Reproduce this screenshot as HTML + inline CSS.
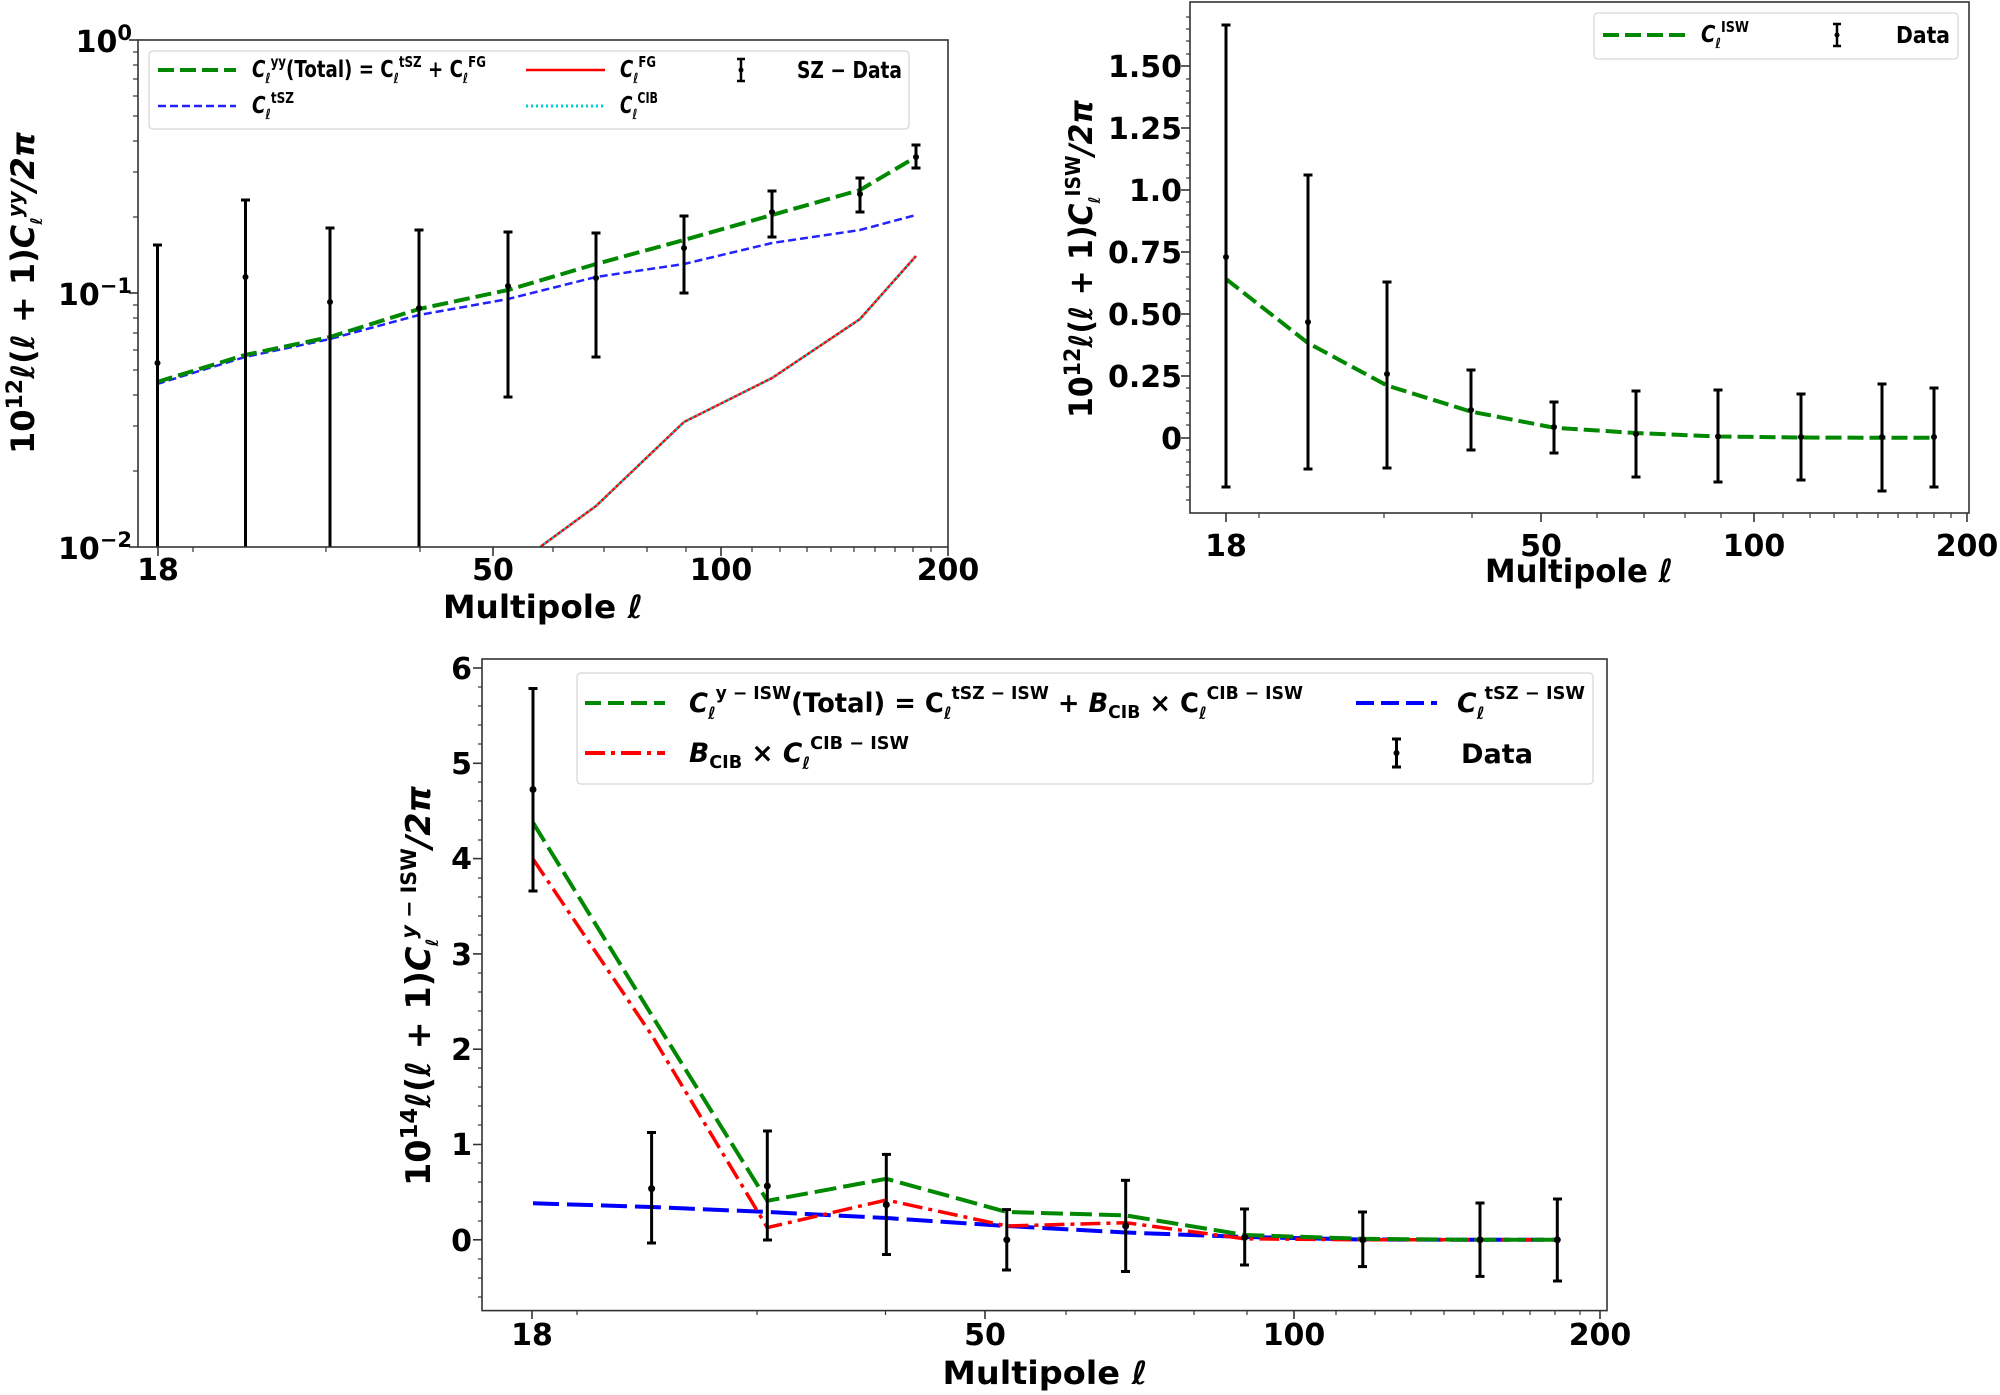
<!DOCTYPE html>
<html><head><meta charset="utf-8"><style>
html,body{margin:0;padding:0;background:#fff}
svg{display:block}
text{font-family:"DejaVu Sans","Liberation Sans",sans-serif;font-weight:bold;fill:#000}
.t{font-size:30px}
.lg{font-size:23px}
.it{font-style:italic}
</style></head><body>
<svg width="2000" height="1395" viewBox="0 0 2000 1395" xmlns="http://www.w3.org/2000/svg">
<rect width="2000" height="1395" fill="#fff"/>

<!-- ================= PANEL 1 ================= -->
<g>
<clipPath id="c1"><rect x="138" y="40" width="810" height="507"/></clipPath>
<g clip-path="url(#c1)" fill="none">
 <!-- red FG -->
 <polyline points="540,547 596,506 684,422 772,378 860,319 916,256" stroke="#f00" stroke-width="2.5"/>
 <polyline points="540,547 596,506 684,422 772,378 860,319 916,256" stroke="#0cc" stroke-width="2" stroke-dasharray="2,3"/>
 <!-- blue tSZ -->
 <polyline points="157,384 245,357 330,339 419,315 508,299 596,277 684,264 772,243 860,230 916,215" stroke="#22f" stroke-width="2.5" stroke-dasharray="8,4"/>
 <!-- green total -->
 <polyline points="157,382 245,355 330,337 419,309 508,290 596,264 684,240 772,215 860,190 916,157" stroke="#080" stroke-width="4" stroke-dasharray="16,6"/>
 <!-- error bars -->
 <g stroke="#000" stroke-width="3">
  <line x1="157.5" y1="245" x2="157.5" y2="560"/><line x1="153" y1="245" x2="162" y2="245"/>
  <line x1="245.5" y1="200" x2="245.5" y2="560"/><line x1="241" y1="200" x2="250" y2="200"/>
  <line x1="330" y1="228" x2="330" y2="560"/><line x1="325.5" y1="228" x2="334.5" y2="228"/>
  <line x1="419" y1="230" x2="419" y2="560"/><line x1="414.5" y1="230" x2="423.5" y2="230"/>
  <line x1="508" y1="232" x2="508" y2="397"/><line x1="503.5" y1="232" x2="512.5" y2="232"/><line x1="503.5" y1="397" x2="512.5" y2="397"/>
  <line x1="596" y1="233" x2="596" y2="357"/><line x1="591.5" y1="233" x2="600.5" y2="233"/><line x1="591.5" y1="357" x2="600.5" y2="357"/>
  <line x1="684" y1="216" x2="684" y2="293"/><line x1="679.5" y1="216" x2="688.5" y2="216"/><line x1="679.5" y1="293" x2="688.5" y2="293"/>
  <line x1="772" y1="191" x2="772" y2="237"/><line x1="767.5" y1="191" x2="776.5" y2="191"/><line x1="767.5" y1="237" x2="776.5" y2="237"/>
  <line x1="860" y1="178" x2="860" y2="212"/><line x1="855.5" y1="178" x2="864.5" y2="178"/><line x1="855.5" y1="212" x2="864.5" y2="212"/>
  <line x1="916" y1="145" x2="916" y2="168"/><line x1="911.5" y1="145" x2="920.5" y2="145"/><line x1="911.5" y1="168" x2="920.5" y2="168"/>
 </g>
 <g fill="#000"><circle cx="157.5" cy="363" r="3"/><circle cx="245.5" cy="277" r="3"/><circle cx="330" cy="302" r="3"/><circle cx="419" cy="308" r="3"/><circle cx="508" cy="286" r="3"/><circle cx="596" cy="278" r="3"/><circle cx="684" cy="248" r="3"/><circle cx="772" cy="212" r="3"/><circle cx="860" cy="194" r="3"/><circle cx="916" cy="157" r="3"/></g>
</g>
<rect x="138" y="40" width="810" height="507" fill="none" stroke="#333" stroke-width="1.6"/>
<!-- x ticks -->
<g stroke="#333" stroke-width="1.6">
 <line x1="158" y1="547" x2="158" y2="556"/><line x1="493" y1="547" x2="493" y2="556"/><line x1="721" y1="547" x2="721" y2="556"/><line x1="948" y1="547" x2="948" y2="556"/>
 <g stroke-width="1.2"><line x1="193" y1="547" x2="193" y2="552"/><line x1="326" y1="547" x2="326" y2="552"/><line x1="420" y1="547" x2="420" y2="552"/><line x1="553" y1="547" x2="553" y2="552"/><line x1="604" y1="547" x2="604" y2="552"/><line x1="647" y1="547" x2="647" y2="552"/><line x1="686" y1="547" x2="686" y2="552"/><line x1="752" y1="547" x2="752" y2="552"/><line x1="780" y1="547" x2="780" y2="552"/><line x1="807" y1="547" x2="807" y2="552"/><line x1="831" y1="547" x2="831" y2="552"/><line x1="854" y1="547" x2="854" y2="552"/><line x1="875" y1="547" x2="875" y2="552"/><line x1="895" y1="547" x2="895" y2="552"/><line x1="913" y1="547" x2="913" y2="552"/><line x1="931" y1="547" x2="931" y2="552"/></g>
 <!-- y ticks -->
 <line x1="129" y1="40" x2="138" y2="40"/><line x1="129" y1="293" x2="138" y2="293"/><line x1="129" y1="547" x2="138" y2="547"/>
 <g stroke-width="1.2">
  <line x1="133" y1="471" x2="138" y2="471"/><line x1="133" y1="426" x2="138" y2="426"/><line x1="133" y1="395" x2="138" y2="395"/><line x1="133" y1="370" x2="138" y2="370"/><line x1="133" y1="350" x2="138" y2="350"/><line x1="133" y1="333" x2="138" y2="333"/><line x1="133" y1="318" x2="138" y2="318"/><line x1="133" y1="305" x2="138" y2="305"/>
  <line x1="133" y1="217" x2="138" y2="217"/><line x1="133" y1="172" x2="138" y2="172"/><line x1="133" y1="141" x2="138" y2="141"/><line x1="133" y1="116" x2="138" y2="116"/><line x1="133" y1="96" x2="138" y2="96"/><line x1="133" y1="79" x2="138" y2="79"/><line x1="133" y1="65" x2="138" y2="65"/><line x1="133" y1="52" x2="138" y2="52"/>
 </g>
</g>
<g class="t" text-anchor="middle">
 <text x="158" y="580">18</text><text x="493" y="580">50</text><text x="721" y="580">100</text><text x="948" y="580">200</text>
</g>
<g class="t" text-anchor="end">
 <text x="132" y="52">10<tspan font-size="21" dy="-12">0</tspan></text>
 <text x="132" y="305">10<tspan font-size="21" dy="-12">−1</tspan></text>
 <text x="132" y="559">10<tspan font-size="21" dy="-12">−2</tspan></text>
</g>
<text x="543" y="618" font-size="32" text-anchor="middle" textLength="200" lengthAdjust="spacingAndGlyphs">Multipole <tspan class="it">ℓ</tspan></text>
<text transform="translate(34,293) rotate(-90)" font-size="32" text-anchor="middle" textLength="322" lengthAdjust="spacingAndGlyphs">10<tspan font-size="22" dy="-12">12</tspan><tspan dy="12" class="it">ℓ</tspan>(<tspan class="it">ℓ</tspan> + 1)<tspan class="it">C</tspan><tspan font-size="16" dy="8" class="it">ℓ</tspan><tspan font-size="20" dy="-20" class="it">yy</tspan><tspan dy="12" class="it">/2π</tspan></text>
<!-- legend -->
<rect x="149" y="51" width="760" height="78" rx="4" fill="#fff" stroke="#ddd" stroke-width="1.5"/>
<line x1="158" y1="70" x2="236" y2="70" stroke="#080" stroke-width="4" stroke-dasharray="16,6"/>
<line x1="158" y1="106" x2="236" y2="106" stroke="#22f" stroke-width="2.5" stroke-dasharray="8,4"/>
<line x1="526" y1="70" x2="605" y2="70" stroke="#f00" stroke-width="2.5"/>
<line x1="526" y1="106" x2="605" y2="106" stroke="#0cc" stroke-width="3" stroke-dasharray="2,3"/>
<g stroke="#000" stroke-width="2.5"><line x1="741" y1="59" x2="741" y2="81"/><line x1="737" y1="59" x2="745" y2="59"/><line x1="737" y1="81" x2="745" y2="81"/></g><circle cx="741" cy="70" r="2.5"/>
<text class="lg" x="252" y="77" textLength="234" lengthAdjust="spacingAndGlyphs"><tspan class="it">C</tspan><tspan font-size="14" dy="6" class="it">ℓ</tspan><tspan font-size="15" dy="-16">yy</tspan><tspan dy="10">(Total) = C</tspan><tspan font-size="14" dy="6" class="it">ℓ</tspan><tspan font-size="15" dy="-16">tSZ</tspan><tspan dy="10"> + C</tspan><tspan font-size="14" dy="6" class="it">ℓ</tspan><tspan font-size="15" dy="-16">FG</tspan></text>
<text class="lg" x="252" y="113" textLength="42" lengthAdjust="spacingAndGlyphs"><tspan class="it">C</tspan><tspan font-size="14" dy="6" class="it">ℓ</tspan><tspan font-size="15" dy="-16">tSZ</tspan></text>
<text class="lg" x="620" y="77" textLength="36" lengthAdjust="spacingAndGlyphs"><tspan class="it">C</tspan><tspan font-size="14" dy="6" class="it">ℓ</tspan><tspan font-size="15" dy="-16">FG</tspan></text>
<text class="lg" x="620" y="113" textLength="38" lengthAdjust="spacingAndGlyphs"><tspan class="it">C</tspan><tspan font-size="14" dy="6" class="it">ℓ</tspan><tspan font-size="15" dy="-16">CIB</tspan></text>
<text class="lg" x="797" y="78" textLength="105" lengthAdjust="spacingAndGlyphs">SZ − Data</text>
</g>

<!-- ================= PANEL 2 ================= -->
<g>
<g fill="none">
 <polyline points="1226,279 1308,343 1387,385.5 1471,411.6 1554,427.7 1636,433 1718,436.5 1801,437.5 1882,437.8 1934,437.8" stroke="#080" stroke-width="4" stroke-dasharray="16,6"/>
 <g stroke="#000" stroke-width="3">
  <line x1="1226" y1="25" x2="1226" y2="487"/><line x1="1221.5" y1="25" x2="1230.5" y2="25"/><line x1="1221.5" y1="487" x2="1230.5" y2="487"/>
  <line x1="1308" y1="175" x2="1308" y2="469"/><line x1="1303.5" y1="175" x2="1312.5" y2="175"/><line x1="1303.5" y1="469" x2="1312.5" y2="469"/>
  <line x1="1387" y1="282" x2="1387" y2="468"/><line x1="1382.5" y1="282" x2="1391.5" y2="282"/><line x1="1382.5" y1="468" x2="1391.5" y2="468"/>
  <line x1="1471" y1="370" x2="1471" y2="450"/><line x1="1466.5" y1="370" x2="1475.5" y2="370"/><line x1="1466.5" y1="450" x2="1475.5" y2="450"/>
  <line x1="1554" y1="402" x2="1554" y2="453"/><line x1="1549.5" y1="402" x2="1558.5" y2="402"/><line x1="1549.5" y1="453" x2="1558.5" y2="453"/>
  <line x1="1636" y1="391" x2="1636" y2="477"/><line x1="1631.5" y1="391" x2="1640.5" y2="391"/><line x1="1631.5" y1="477" x2="1640.5" y2="477"/>
  <line x1="1718" y1="390" x2="1718" y2="482"/><line x1="1713.5" y1="390" x2="1722.5" y2="390"/><line x1="1713.5" y1="482" x2="1722.5" y2="482"/>
  <line x1="1801" y1="394" x2="1801" y2="480"/><line x1="1796.5" y1="394" x2="1805.5" y2="394"/><line x1="1796.5" y1="480" x2="1805.5" y2="480"/>
  <line x1="1882" y1="384" x2="1882" y2="491"/><line x1="1877.5" y1="384" x2="1886.5" y2="384"/><line x1="1877.5" y1="491" x2="1886.5" y2="491"/>
  <line x1="1934" y1="388" x2="1934" y2="487"/><line x1="1929.5" y1="388" x2="1938.5" y2="388"/><line x1="1929.5" y1="487" x2="1938.5" y2="487"/>
 </g>
</g>
<g fill="#000"><circle cx="1226" cy="257" r="3"/><circle cx="1308" cy="322" r="3"/><circle cx="1387" cy="374" r="3"/><circle cx="1471" cy="410" r="3"/><circle cx="1554" cy="427" r="3"/><circle cx="1636" cy="434" r="3"/><circle cx="1718" cy="436.5" r="3"/><circle cx="1801" cy="437" r="3"/><circle cx="1882" cy="437" r="3"/><circle cx="1934" cy="437" r="3"/></g>
<rect x="1190" y="2" width="779" height="511" fill="none" stroke="#333" stroke-width="1.6"/>
<g stroke="#333" stroke-width="1.6">
 <line x1="1226" y1="513" x2="1226" y2="522"/><line x1="1541" y1="513" x2="1541" y2="522"/><line x1="1754" y1="513" x2="1754" y2="522"/><line x1="1967" y1="513" x2="1967" y2="522"/>
 <g stroke-width="1.2"><line x1="1259" y1="513" x2="1259" y2="518"/><line x1="1384" y1="513" x2="1384" y2="518"/><line x1="1472" y1="513" x2="1472" y2="518"/><line x1="1597" y1="513" x2="1597" y2="518"/><line x1="1644" y1="513" x2="1644" y2="518"/><line x1="1685" y1="513" x2="1685" y2="518"/><line x1="1721" y1="513" x2="1721" y2="518"/><line x1="1783" y1="513" x2="1783" y2="518"/><line x1="1810" y1="513" x2="1810" y2="518"/><line x1="1834" y1="513" x2="1834" y2="518"/><line x1="1857" y1="513" x2="1857" y2="518"/><line x1="1878" y1="513" x2="1878" y2="518"/><line x1="1898" y1="513" x2="1898" y2="518"/><line x1="1917" y1="513" x2="1917" y2="518"/><line x1="1934" y1="513" x2="1934" y2="518"/><line x1="1951" y1="513" x2="1951" y2="518"/></g>
 <line x1="1181" y1="66" x2="1190" y2="66"/><line x1="1181" y1="128" x2="1190" y2="128"/><line x1="1181" y1="190" x2="1190" y2="190"/><line x1="1181" y1="252" x2="1190" y2="252"/><line x1="1181" y1="314" x2="1190" y2="314"/><line x1="1181" y1="376" x2="1190" y2="376"/><line x1="1181" y1="438" x2="1190" y2="438"/>
 <g stroke-width="1.2"><line x1="1186" y1="17" x2="1190" y2="17"/><line x1="1186" y1="29" x2="1190" y2="29"/><line x1="1186" y1="41" x2="1190" y2="41"/><line x1="1186" y1="54" x2="1190" y2="54"/><line x1="1186" y1="79" x2="1190" y2="79"/><line x1="1186" y1="91" x2="1190" y2="91"/><line x1="1186" y1="103" x2="1190" y2="103"/><line x1="1186" y1="116" x2="1190" y2="116"/><line x1="1186" y1="141" x2="1190" y2="141"/><line x1="1186" y1="153" x2="1190" y2="153"/><line x1="1186" y1="165" x2="1190" y2="165"/><line x1="1186" y1="178" x2="1190" y2="178"/><line x1="1186" y1="202" x2="1190" y2="202"/><line x1="1186" y1="215" x2="1190" y2="215"/><line x1="1186" y1="227" x2="1190" y2="227"/><line x1="1186" y1="240" x2="1190" y2="240"/><line x1="1186" y1="264" x2="1190" y2="264"/><line x1="1186" y1="277" x2="1190" y2="277"/><line x1="1186" y1="289" x2="1190" y2="289"/><line x1="1186" y1="301" x2="1190" y2="301"/><line x1="1186" y1="326" x2="1190" y2="326"/><line x1="1186" y1="339" x2="1190" y2="339"/><line x1="1186" y1="351" x2="1190" y2="351"/><line x1="1186" y1="363" x2="1190" y2="363"/><line x1="1186" y1="388" x2="1190" y2="388"/><line x1="1186" y1="401" x2="1190" y2="401"/><line x1="1186" y1="413" x2="1190" y2="413"/><line x1="1186" y1="425" x2="1190" y2="425"/><line x1="1186" y1="450" x2="1190" y2="450"/><line x1="1186" y1="462" x2="1190" y2="462"/><line x1="1186" y1="475" x2="1190" y2="475"/><line x1="1186" y1="487" x2="1190" y2="487"/><line x1="1186" y1="500" x2="1190" y2="500"/></g>
</g>
<g class="t" text-anchor="middle">
 <text x="1226" y="556">18</text><text x="1541" y="556">50</text><text x="1754" y="556">100</text><text x="1967" y="556">200</text>
</g>
<g class="t" text-anchor="end">
 <text x="1182" y="77">1.50</text><text x="1182" y="139">1.25</text><text x="1182" y="201">1.0</text><text x="1182" y="263">0.75</text><text x="1182" y="325">0.50</text><text x="1182" y="387">0.25</text><text x="1182" y="449">0</text>
</g>
<text x="1579" y="582" font-size="32" text-anchor="middle" textLength="188" lengthAdjust="spacingAndGlyphs">Multipole <tspan class="it">ℓ</tspan></text>
<text transform="translate(1092,259) rotate(-90)" font-size="32" text-anchor="middle" textLength="318" lengthAdjust="spacingAndGlyphs">10<tspan font-size="22" dy="-12">12</tspan><tspan dy="12" class="it">ℓ</tspan>(<tspan class="it">ℓ</tspan> + 1)<tspan class="it">C</tspan><tspan font-size="16" dy="8" class="it">ℓ</tspan><tspan font-size="20" dy="-20">ISW</tspan><tspan dy="12" class="it">/2π</tspan></text>
<rect x="1594" y="13" width="364" height="46" rx="4" fill="#fff" stroke="#ddd" stroke-width="1.5"/>
<line x1="1603" y1="35" x2="1686" y2="35" stroke="#080" stroke-width="4" stroke-dasharray="16,6"/>
<text class="lg" x="1701" y="42" textLength="48" lengthAdjust="spacingAndGlyphs"><tspan class="it">C</tspan><tspan font-size="14" dy="6" class="it">ℓ</tspan><tspan font-size="15" dy="-16">ISW</tspan></text>
<g stroke="#000" stroke-width="2.5"><line x1="1837" y1="24" x2="1837" y2="46"/><line x1="1833" y1="24" x2="1841" y2="24"/><line x1="1833" y1="46" x2="1841" y2="46"/></g><circle cx="1837" cy="35" r="2.5"/>
<text class="lg" x="1896" y="43" textLength="54" lengthAdjust="spacingAndGlyphs">Data</text>
</g>

<!-- ================= PANEL 3 ================= -->
<g>
<g fill="none">
 <polyline points="533,1203.3 651.6,1207 767.3,1212 886.3,1218 1006.8,1226 1125.7,1232.5 1244.7,1237 1362.8,1239.5 1480,1239.8 1557.3,1239.8" stroke="#00f" stroke-width="4" stroke-dasharray="26,8"/>
 <polyline points="533,859 651.6,1035 767.3,1227.6 886.3,1200 1006.8,1226 1125.7,1222.7 1244.7,1238.8 1362.8,1239.8 1480,1239.8 1557.3,1239.8" stroke="#f00" stroke-width="3.5" stroke-dasharray="20,6,4,6"/>
 <polyline points="533,822.7 651.6,1015 767.3,1200.8 886.3,1178.8 1006.8,1212 1125.7,1215.4 1244.7,1235 1362.8,1238.8 1480,1239.8 1557.3,1239.8" stroke="#080" stroke-width="4" stroke-dasharray="22,7"/>
 <g stroke="#000" stroke-width="3">
  <line x1="533" y1="688.5" x2="533" y2="891"/><line x1="528.5" y1="688.5" x2="537.5" y2="688.5"/><line x1="528.5" y1="891" x2="537.5" y2="891"/>
  <line x1="651.6" y1="1132.5" x2="651.6" y2="1243"/><line x1="647" y1="1132.5" x2="656" y2="1132.5"/><line x1="647" y1="1243" x2="656" y2="1243"/>
  <line x1="767.3" y1="1131" x2="767.3" y2="1240"/><line x1="763" y1="1131" x2="772" y2="1131"/><line x1="763" y1="1240" x2="772" y2="1240"/>
  <line x1="886.3" y1="1154.4" x2="886.3" y2="1254.5"/><line x1="882" y1="1154.4" x2="891" y2="1154.4"/><line x1="882" y1="1254.5" x2="891" y2="1254.5"/>
  <line x1="1006.8" y1="1209.6" x2="1006.8" y2="1270"/><line x1="1002" y1="1209.6" x2="1011" y2="1209.6"/><line x1="1002" y1="1270" x2="1011" y2="1270"/>
  <line x1="1125.7" y1="1180.3" x2="1125.7" y2="1271.5"/><line x1="1121" y1="1180.3" x2="1130" y2="1180.3"/><line x1="1121" y1="1271.5" x2="1130" y2="1271.5"/>
  <line x1="1244.7" y1="1209" x2="1244.7" y2="1265"/><line x1="1240" y1="1209" x2="1249" y2="1209"/><line x1="1240" y1="1265" x2="1249" y2="1265"/>
  <line x1="1362.8" y1="1212" x2="1362.8" y2="1266.6"/><line x1="1358" y1="1212" x2="1367" y2="1212"/><line x1="1358" y1="1266.6" x2="1367" y2="1266.6"/>
  <line x1="1480" y1="1203" x2="1480" y2="1276.4"/><line x1="1475.5" y1="1203" x2="1484.5" y2="1203"/><line x1="1475.5" y1="1276.4" x2="1484.5" y2="1276.4"/>
  <line x1="1557.3" y1="1199" x2="1557.3" y2="1281"/><line x1="1553" y1="1199" x2="1562" y2="1199"/><line x1="1553" y1="1281" x2="1562" y2="1281"/>
 </g>
</g>
<g fill="#000"><circle cx="533" cy="789.5" r="3.5"/><circle cx="651.6" cy="1188.6" r="3.5"/><circle cx="767.3" cy="1186" r="3.5"/><circle cx="886.3" cy="1204.7" r="3.5"/><circle cx="1006.8" cy="1239.8" r="3.5"/><circle cx="1125.7" cy="1226" r="3.5"/><circle cx="1244.7" cy="1237.4" r="3.5"/><circle cx="1362.8" cy="1239.8" r="3.5"/><circle cx="1480" cy="1239.8" r="3.5"/><circle cx="1557.3" cy="1239.8" r="3.5"/></g>
<rect x="482" y="659" width="1125" height="651.6" fill="none" stroke="#333" stroke-width="1.6"/>
<g stroke="#333" stroke-width="1.6">
 <line x1="532" y1="1310.6" x2="532" y2="1319"/><line x1="985" y1="1310.6" x2="985" y2="1319"/><line x1="1294" y1="1310.6" x2="1294" y2="1319"/><line x1="1600" y1="1310.6" x2="1600" y2="1319"/>
 <g stroke-width="1.2"><line x1="577" y1="1310.6" x2="577" y2="1315"/><line x1="757" y1="1310.6" x2="757" y2="1315"/><line x1="885.5" y1="1310.6" x2="885.5" y2="1315"/><line x1="1066" y1="1310.6" x2="1066" y2="1315"/><line x1="1135" y1="1310.6" x2="1135" y2="1315"/><line x1="1194" y1="1310.6" x2="1194" y2="1315"/><line x1="1247" y1="1310.6" x2="1247" y2="1315"/><line x1="1336" y1="1310.6" x2="1336" y2="1315"/><line x1="1375" y1="1310.6" x2="1375" y2="1315"/><line x1="1411" y1="1310.6" x2="1411" y2="1315"/><line x1="1444" y1="1310.6" x2="1444" y2="1315"/><line x1="1474" y1="1310.6" x2="1474" y2="1315"/><line x1="1503" y1="1310.6" x2="1503" y2="1315"/><line x1="1530" y1="1310.6" x2="1530" y2="1315"/><line x1="1555" y1="1310.6" x2="1555" y2="1315"/><line x1="1580" y1="1310.6" x2="1580" y2="1315"/></g>
 <line x1="473" y1="668" x2="482" y2="668"/><line x1="473" y1="763.3" x2="482" y2="763.3"/><line x1="473" y1="858.6" x2="482" y2="858.6"/><line x1="473" y1="953.9" x2="482" y2="953.9"/><line x1="473" y1="1049.2" x2="482" y2="1049.2"/><line x1="473" y1="1144.5" x2="482" y2="1144.5"/><line x1="473" y1="1239.8" x2="482" y2="1239.8"/>
 <g stroke-width="1.2">
  <line x1="478" y1="687" x2="482" y2="687"/><line x1="478" y1="706" x2="482" y2="706"/><line x1="478" y1="725" x2="482" y2="725"/><line x1="478" y1="744" x2="482" y2="744"/>
  <line x1="478" y1="782" x2="482" y2="782"/><line x1="478" y1="801" x2="482" y2="801"/><line x1="478" y1="820" x2="482" y2="820"/><line x1="478" y1="840" x2="482" y2="840"/>
  <line x1="478" y1="878" x2="482" y2="878"/><line x1="478" y1="897" x2="482" y2="897"/><line x1="478" y1="916" x2="482" y2="916"/><line x1="478" y1="935" x2="482" y2="935"/>
  <line x1="478" y1="973" x2="482" y2="973"/><line x1="478" y1="992" x2="482" y2="992"/><line x1="478" y1="1011" x2="482" y2="1011"/><line x1="478" y1="1030" x2="482" y2="1030"/>
  <line x1="478" y1="1068" x2="482" y2="1068"/><line x1="478" y1="1087" x2="482" y2="1087"/><line x1="478" y1="1106" x2="482" y2="1106"/><line x1="478" y1="1125" x2="482" y2="1125"/>
  <line x1="478" y1="1163" x2="482" y2="1163"/><line x1="478" y1="1182" x2="482" y2="1182"/><line x1="478" y1="1202" x2="482" y2="1202"/><line x1="478" y1="1221" x2="482" y2="1221"/>
  <line x1="478" y1="1259" x2="482" y2="1259"/><line x1="478" y1="1278" x2="482" y2="1278"/><line x1="478" y1="1297" x2="482" y2="1297"/>
 </g>
</g>
<g class="t" text-anchor="middle">
 <text x="532" y="1345">18</text><text x="985" y="1345">50</text><text x="1294" y="1345">100</text><text x="1600" y="1345">200</text>
</g>
<g class="t" text-anchor="end">
 <text x="472" y="679">6</text><text x="472" y="774">5</text><text x="472" y="869">4</text><text x="472" y="965">3</text><text x="472" y="1060">2</text><text x="472" y="1155">1</text><text x="472" y="1251">0</text>
</g>
<text x="1045" y="1384" font-size="32" text-anchor="middle" textLength="205" lengthAdjust="spacingAndGlyphs">Multipole <tspan class="it">ℓ</tspan></text>
<text transform="translate(430,986) rotate(-90)" font-size="34" text-anchor="middle" textLength="400" lengthAdjust="spacingAndGlyphs">10<tspan font-size="23" dy="-13">14</tspan><tspan dy="13" class="it">ℓ</tspan>(<tspan class="it">ℓ</tspan> + 1)<tspan class="it">C</tspan><tspan font-size="17" dy="8" class="it">ℓ</tspan><tspan font-size="21" dy="-22" class="it">y</tspan><tspan font-size="21"> − ISW</tspan><tspan dy="14" class="it">/2π</tspan></text>
<rect x="577" y="673" width="1016" height="111" rx="4" fill="#fff" stroke="#ddd" stroke-width="1.5"/>
<line x1="585" y1="703" x2="665" y2="703" stroke="#080" stroke-width="4" stroke-dasharray="16,7"/>
<line x1="1356" y1="703" x2="1437" y2="703" stroke="#00f" stroke-width="4" stroke-dasharray="18,7"/>
<line x1="585" y1="753" x2="665" y2="753" stroke="#f00" stroke-width="4" stroke-dasharray="20,6,4,6"/>
<g stroke="#000" stroke-width="3"><line x1="1396.5" y1="739" x2="1396.5" y2="767"/><line x1="1392" y1="739" x2="1401" y2="739"/><line x1="1392" y1="767" x2="1401" y2="767"/></g><circle cx="1396.5" cy="753" r="3"/>
<text font-size="27" x="689" y="712" textLength="614" lengthAdjust="spacingAndGlyphs"><tspan class="it">C</tspan><tspan font-size="17" dy="7" class="it">ℓ</tspan><tspan font-size="18" dy="-20">y − ISW</tspan><tspan dy="13">(Total) = C</tspan><tspan font-size="17" dy="7" class="it">ℓ</tspan><tspan font-size="18" dy="-20">tSZ − ISW</tspan><tspan dy="13"> + </tspan><tspan class="it">B</tspan><tspan font-size="18" dy="6">CIB</tspan><tspan dy="-6"> × C</tspan><tspan font-size="17" dy="7" class="it">ℓ</tspan><tspan font-size="18" dy="-20">CIB − ISW</tspan></text>
<text font-size="27" x="1457" y="712" textLength="128" lengthAdjust="spacingAndGlyphs"><tspan class="it">C</tspan><tspan font-size="17" dy="7" class="it">ℓ</tspan><tspan font-size="18" dy="-20">tSZ − ISW</tspan></text>
<text font-size="27" x="689" y="762" textLength="220" lengthAdjust="spacingAndGlyphs"><tspan class="it">B</tspan><tspan font-size="18" dy="6">CIB</tspan><tspan dy="-6"> × </tspan><tspan class="it">C</tspan><tspan font-size="17" dy="7" class="it">ℓ</tspan><tspan font-size="18" dy="-20">CIB − ISW</tspan></text>
<text font-size="27" x="1461" y="763" textLength="72" lengthAdjust="spacingAndGlyphs">Data</text>
</g>
</svg>
</body></html>
